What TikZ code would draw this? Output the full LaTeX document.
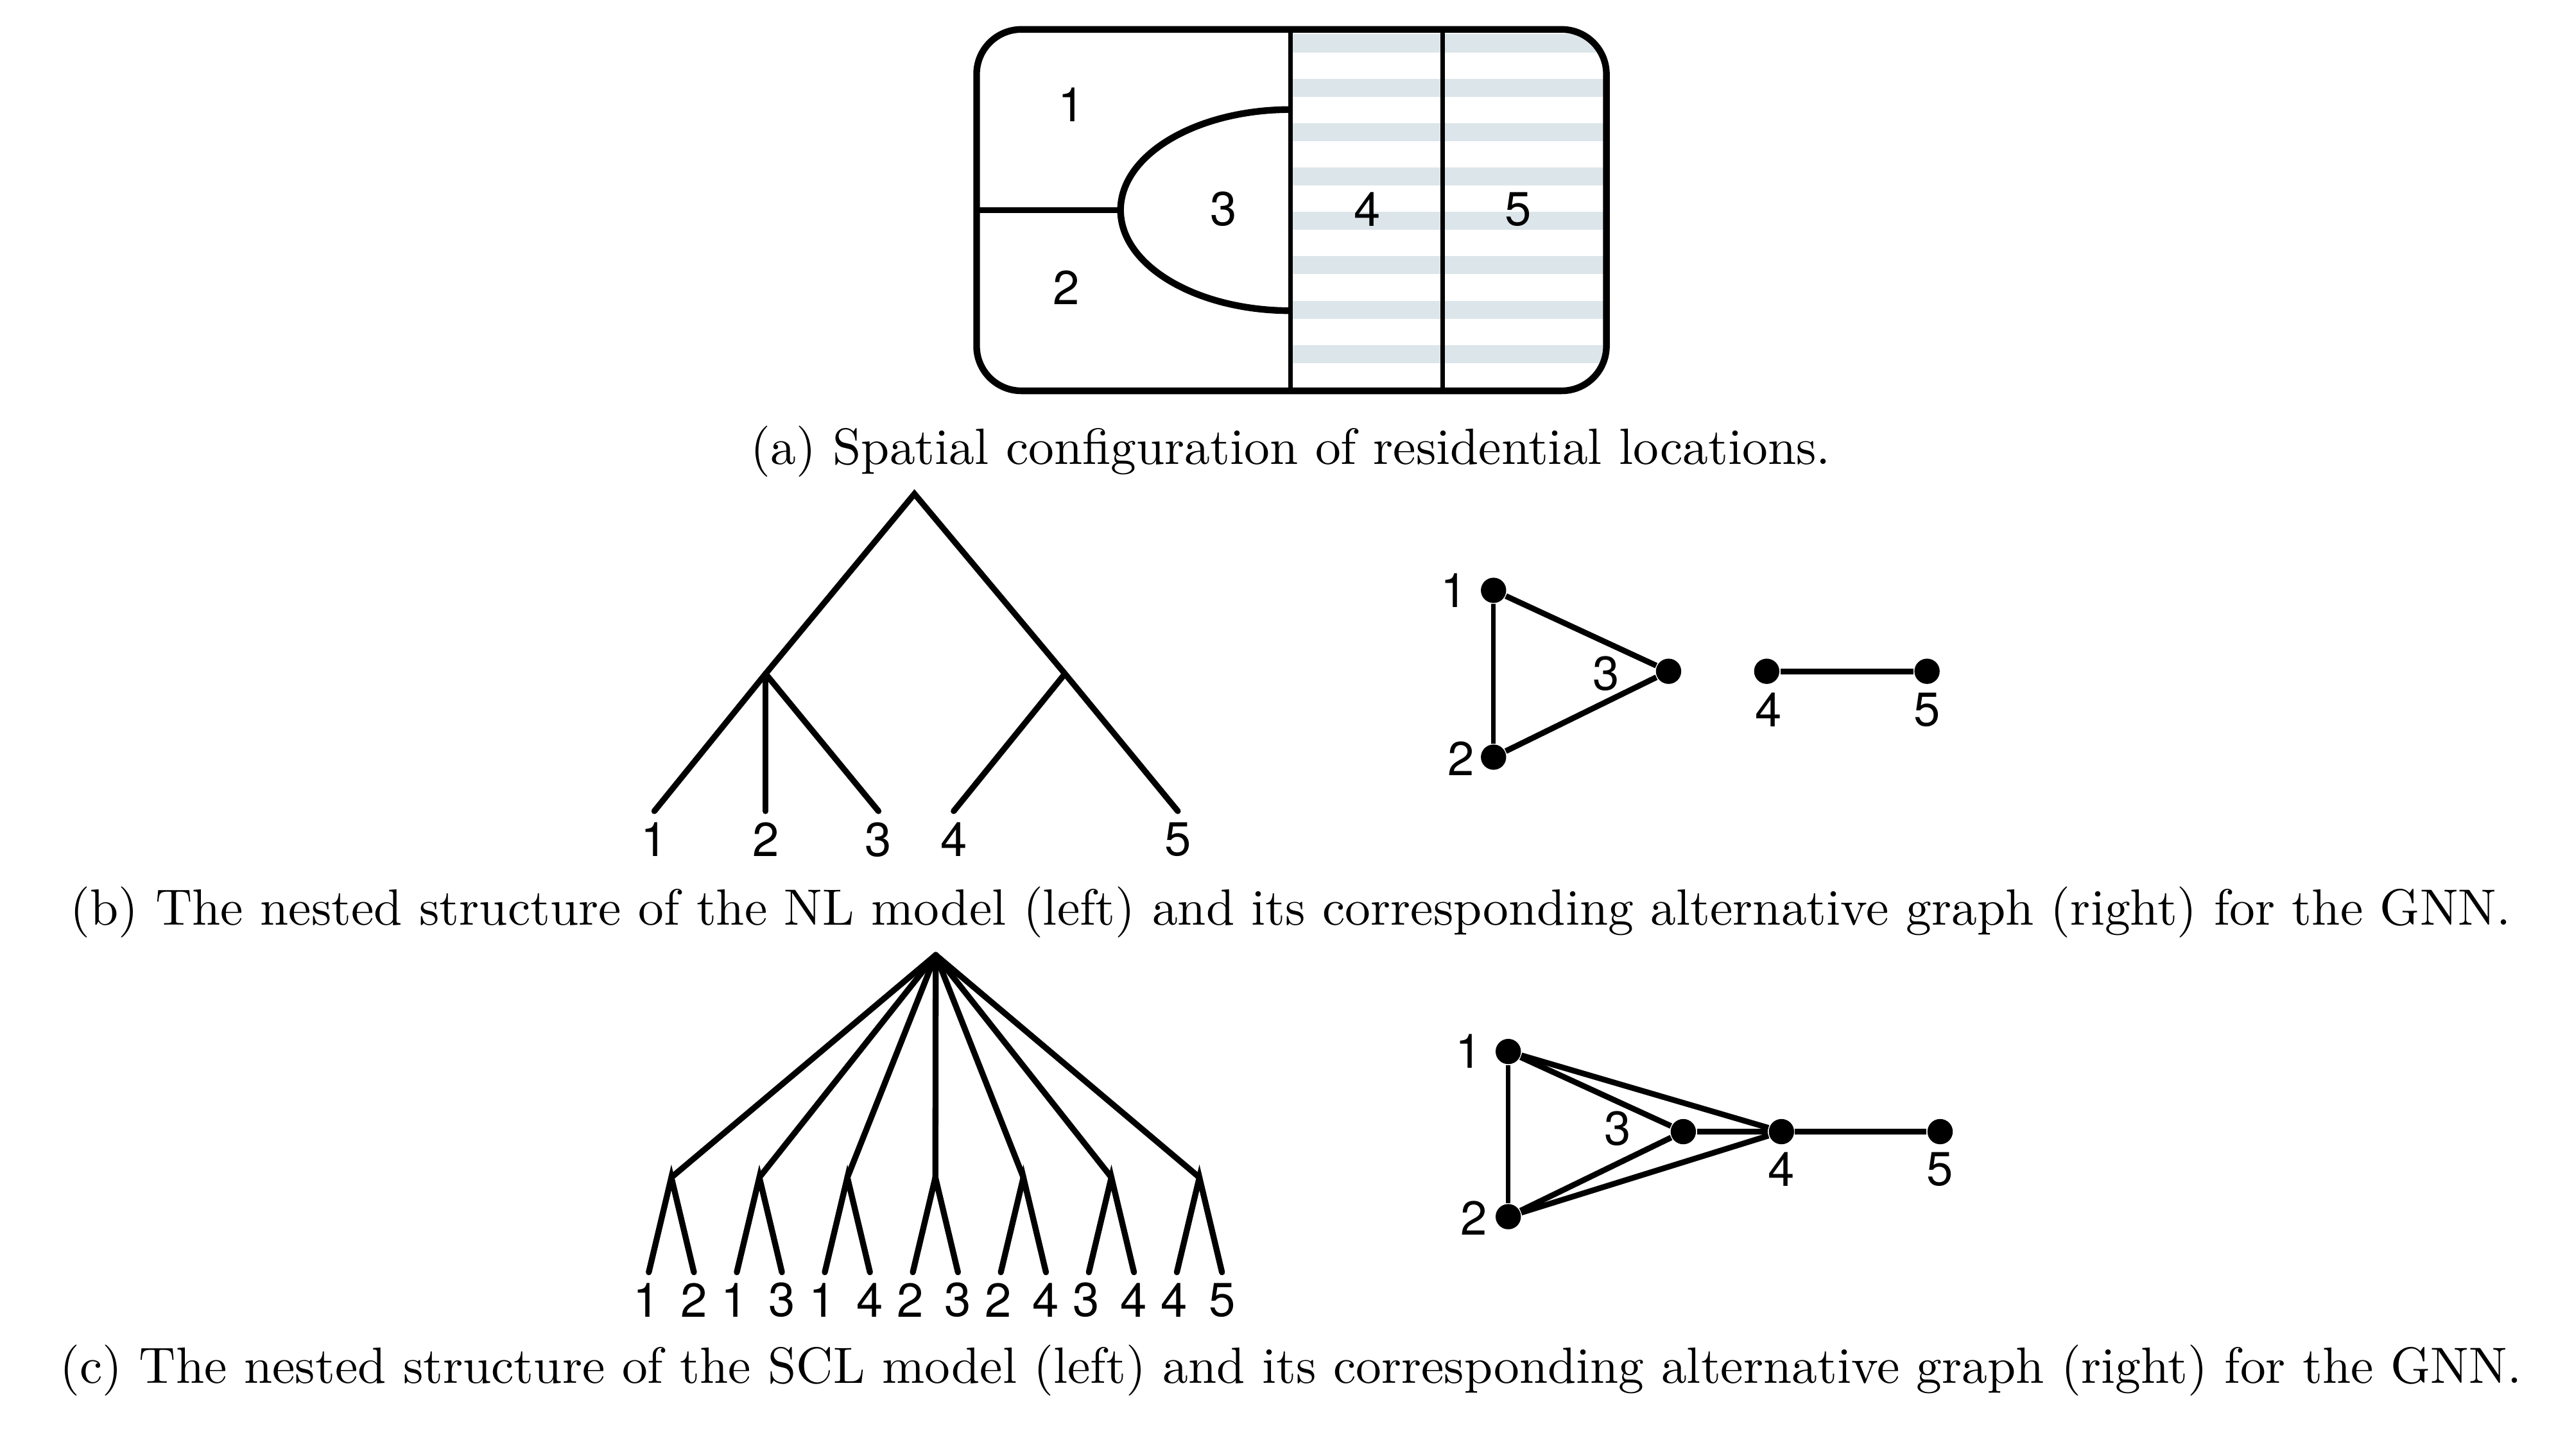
\documentclass[tikz,border=0pt]{standalone}
\usepackage{fontspec}
\newfontfamily\digitfont{TeX Gyre Heros}
\definecolor{stripe}{RGB}{220,229,234}
\tikzset{
  lbl/.style={font=\digitfont, inner sep=0pt},
  dot/.style={circle, fill=black, inner sep=0pt, minimum size=5.3pt},
  edge/.style={line width=1.2pt},
  branch/.style={line width=1.25pt, line cap=round},
  caption/.style={inner sep=0pt, font=\fontsize{10.7}{13}\selectfont}
}
\begin{document}
\begin{tikzpicture}[x=0.01205cm,y=-0.01205cm]
\useasboundingbox (0,0) rectangle (1568,890);

% (a) residential locations
\begin{scope}
  \clip[rounded corners=0.33cm] (597,18) rectangle (982,239);
  \foreach \k in {0,...,7}
    \fill[stripe] (789,{21+27.15*\k}) rectangle (982,{32+27.15*\k});
\end{scope}
\draw[line width=1.4pt, rounded corners=0.33cm] (597,18) rectangle (982,239);
\draw[line width=1pt] (789,18) -- (789,239);
\draw[line width=1pt] (882,18) -- (882,239);
\draw[line width=1.1pt] (597,128.5) -- (685,128.5);
\draw[line width=1.4pt] (789,67) .. controls (731.6,67) and (685,94.5) .. (685,128.5)
  .. controls (685,162.5) and (731.6,190) .. (789,190);
\node[lbl] (r1) at (655,64) {1};
\node[lbl] (r2) at (652,176) {2};
\node[lbl] (r3) at (748,128) {3};
\node[lbl] (r4) at (836,128) {4};
\node[lbl] (r5) at (928,128) {5};
\node[caption] (capa) at (789,276) {(a) Spatial configuration of residential locations.};

% (b) NL tree
\coordinate (broot) at (559,302);
\coordinate (bl) at (468,412);
\coordinate (br) at (651,412);
\foreach \i/\x in {1/400,2/468,3/537,4/583,5/720} {
  \coordinate (b\i) at (\x,496);
  \node[lbl] (nb\i) at (\x,513.5) {\i};
}
\draw[branch] (b1) -- (bl) -- (broot) -- (br) -- (b5);
\draw[branch] (bl) -- (b2);
\draw[branch] (bl) -- (b3);
\draw[branch] (br) -- (b4);

% (b) graph
\node[dot] (g1) at (913,361) {};
\node[dot] (g2) at (913,463) {};
\node[dot] (g3) at (1020,410.5) {};
\node[dot] (g4) at (1080,410.5) {};
\node[dot] (g5) at (1178,410.5) {};
\node[lbl] (ng1) at (889,361) {1};
\node[lbl] (ng2) at (893,464) {2};
\node[lbl] (ng3) at (982,412) {3};
\node[lbl] (ng4) at (1081,434) {4};
\node[lbl] (ng5) at (1178,434) {5};
\draw[line width=0.9pt] (g1) -- (g2);
\draw[edge] (g1) -- (g3);
\draw[edge] (g2) -- (g3);
\draw[edge] (g4) -- (g5);
\node[caption] (capb) at (789,558) {(b) The nested structure of the NL model (left) and its corresponding alternative graph (right) for the GNN.};

% (c) SCL tree
\coordinate (croot) at (572,584);
\foreach \k/\a/\b in {0/1/2,1/1/3,2/1/4,3/2/3,4/2/4,5/3/4,6/4/5} {
  \coordinate (cj\k) at ({410.4+53.8*\k},720);
  \coordinate (cl\k) at ({396.6+53.8*\k},778);
  \coordinate (cr\k) at ({424.2+53.8*\k},778);
  \draw[branch] (croot) -- (cj\k);
  \draw[branch] (cl\k) -- (cj\k) -- (cr\k);
  \node[lbl] (ncl\k) at ({395+53.8*\k},795) {\a};
  \node[lbl] (ncr\k) at ({424.2+53.8*\k},795) {\b};
}

% (c) graph
\node[dot] (h1) at (922,643) {};
\node[dot] (h2) at (922,744) {};
\node[dot] (h3) at (1029,692) {};
\node[dot] (h4) at (1089,692) {};
\node[dot] (h5) at (1186,692) {};
\node[lbl] (nh1) at (898,643) {1};
\node[lbl] (nh2) at (901,745) {2};
\node[lbl] (nh3) at (989,690) {3};
\node[lbl] (nh4) at (1089,715) {4};
\node[lbl] (nh5) at (1186,715) {5};
\draw[line width=0.9pt] (h1) -- (h2);
\draw[edge] (h1) -- (h3);
\draw[edge] (h1) -- (h4);
\draw[edge] (h2) -- (h3);
\draw[edge] (h2) -- (h4);
\draw[edge] (h3) -- (h4);
\draw[edge] (h4) -- (h5);
\node[caption] (capc) at (789,838) {(c) The nested structure of the SCL model (left) and its corresponding alternative graph (right) for the GNN.};
\end{tikzpicture}
\end{document}
